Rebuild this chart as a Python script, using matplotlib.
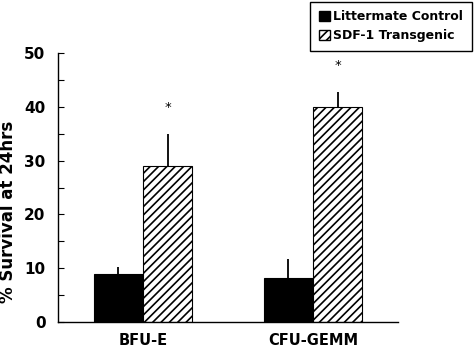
import numpy as np
import matplotlib.pyplot as plt
from matplotlib.patches import Patch
from matplotlib.ticker import MultipleLocator

plt.rcParams['font.family'] = ['DejaVu Sans']
plt.rcParams['font.weight'] = 'bold'
plt.rcParams['hatch.linewidth'] = 1.2

# colony types and survival values
groups = ['BFU-E', 'CFU-GEMM']
control = [9.0, 8.2]
control_err = [1.2, 3.6]
transgenic = [29.0, 40.0]
transgenic_err = [5.9, 2.7]
series_names = ['Littermate Control', 'SDF-1 Transgenic']

x = np.arange(1, len(groups) + 1)
w = 0.29

fig = plt.figure(figsize=(4.74, 3.49), dpi=100)
ax = fig.add_axes([0.1224, 0.0774, 0.7173, 0.7706])

ax.bar(x - w / 2, control, w, color='black', edgecolor='black', linewidth=0.8)
ax.bar(x + w / 2, transgenic, w, color='white', edgecolor='black',
       hatch='////', linewidth=0.8)

# upper error bars only
ax.errorbar(x - w / 2, control, yerr=[np.zeros(2), control_err],
            fmt='none', ecolor='black', elinewidth=1.3, capsize=0)
ax.errorbar(x + w / 2, transgenic, yerr=[np.zeros(2), transgenic_err],
            fmt='none', ecolor='black', elinewidth=1.3, capsize=0)

# significance marks
for xi, v, e in zip(x + w / 2, transgenic, transgenic_err):
    ax.text(xi, v + e + 5.0, '*', ha='center', va='center', fontsize=9.5,
            fontweight='normal')

ax.set_xlim(0.5, 2.5)
ax.set_ylim(0, 50)
ax.set_xticks(x)
ax.set_xticklabels(groups, fontsize=10.5, fontweight='bold')
ax.tick_params(axis='x', length=0, pad=8)
ax.yaxis.set_major_locator(MultipleLocator(10))
ax.yaxis.set_minor_locator(MultipleLocator(5))
ax.tick_params(axis='y', which='both', direction='in', length=4, width=0.8,
               labelsize=11, pad=9)
for lab in ax.get_yticklabels():
    lab.set_fontweight('bold')

ax.spines['top'].set_visible(False)
ax.spines['right'].set_visible(False)
ax.spines['left'].set_linewidth(1.0)
ax.spines['bottom'].set_linewidth(1.0)

ax.set_ylabel('% Survival at 24hrs', fontsize=12, fontweight='bold',
              va='center')
ax.yaxis.set_label_coords(-0.148, 0.41)

handles = [Patch(facecolor='black', edgecolor='black'),
           Patch(facecolor='white', edgecolor='black', hatch='////')]
leg = fig.legend(handles, series_names, loc='upper right',
                 bbox_to_anchor=(0.995, 0.995),
                 prop={'weight': 'bold', 'size': 9},
                 handlelength=0.9, handleheight=0.85, handletextpad=0.25,
                 borderpad=0.7, borderaxespad=0.0, labelspacing=0.45,
                 fancybox=False, edgecolor='black', framealpha=1)
leg.get_frame().set_linewidth(1.0)

fig.savefig('out.png', dpi=100)
